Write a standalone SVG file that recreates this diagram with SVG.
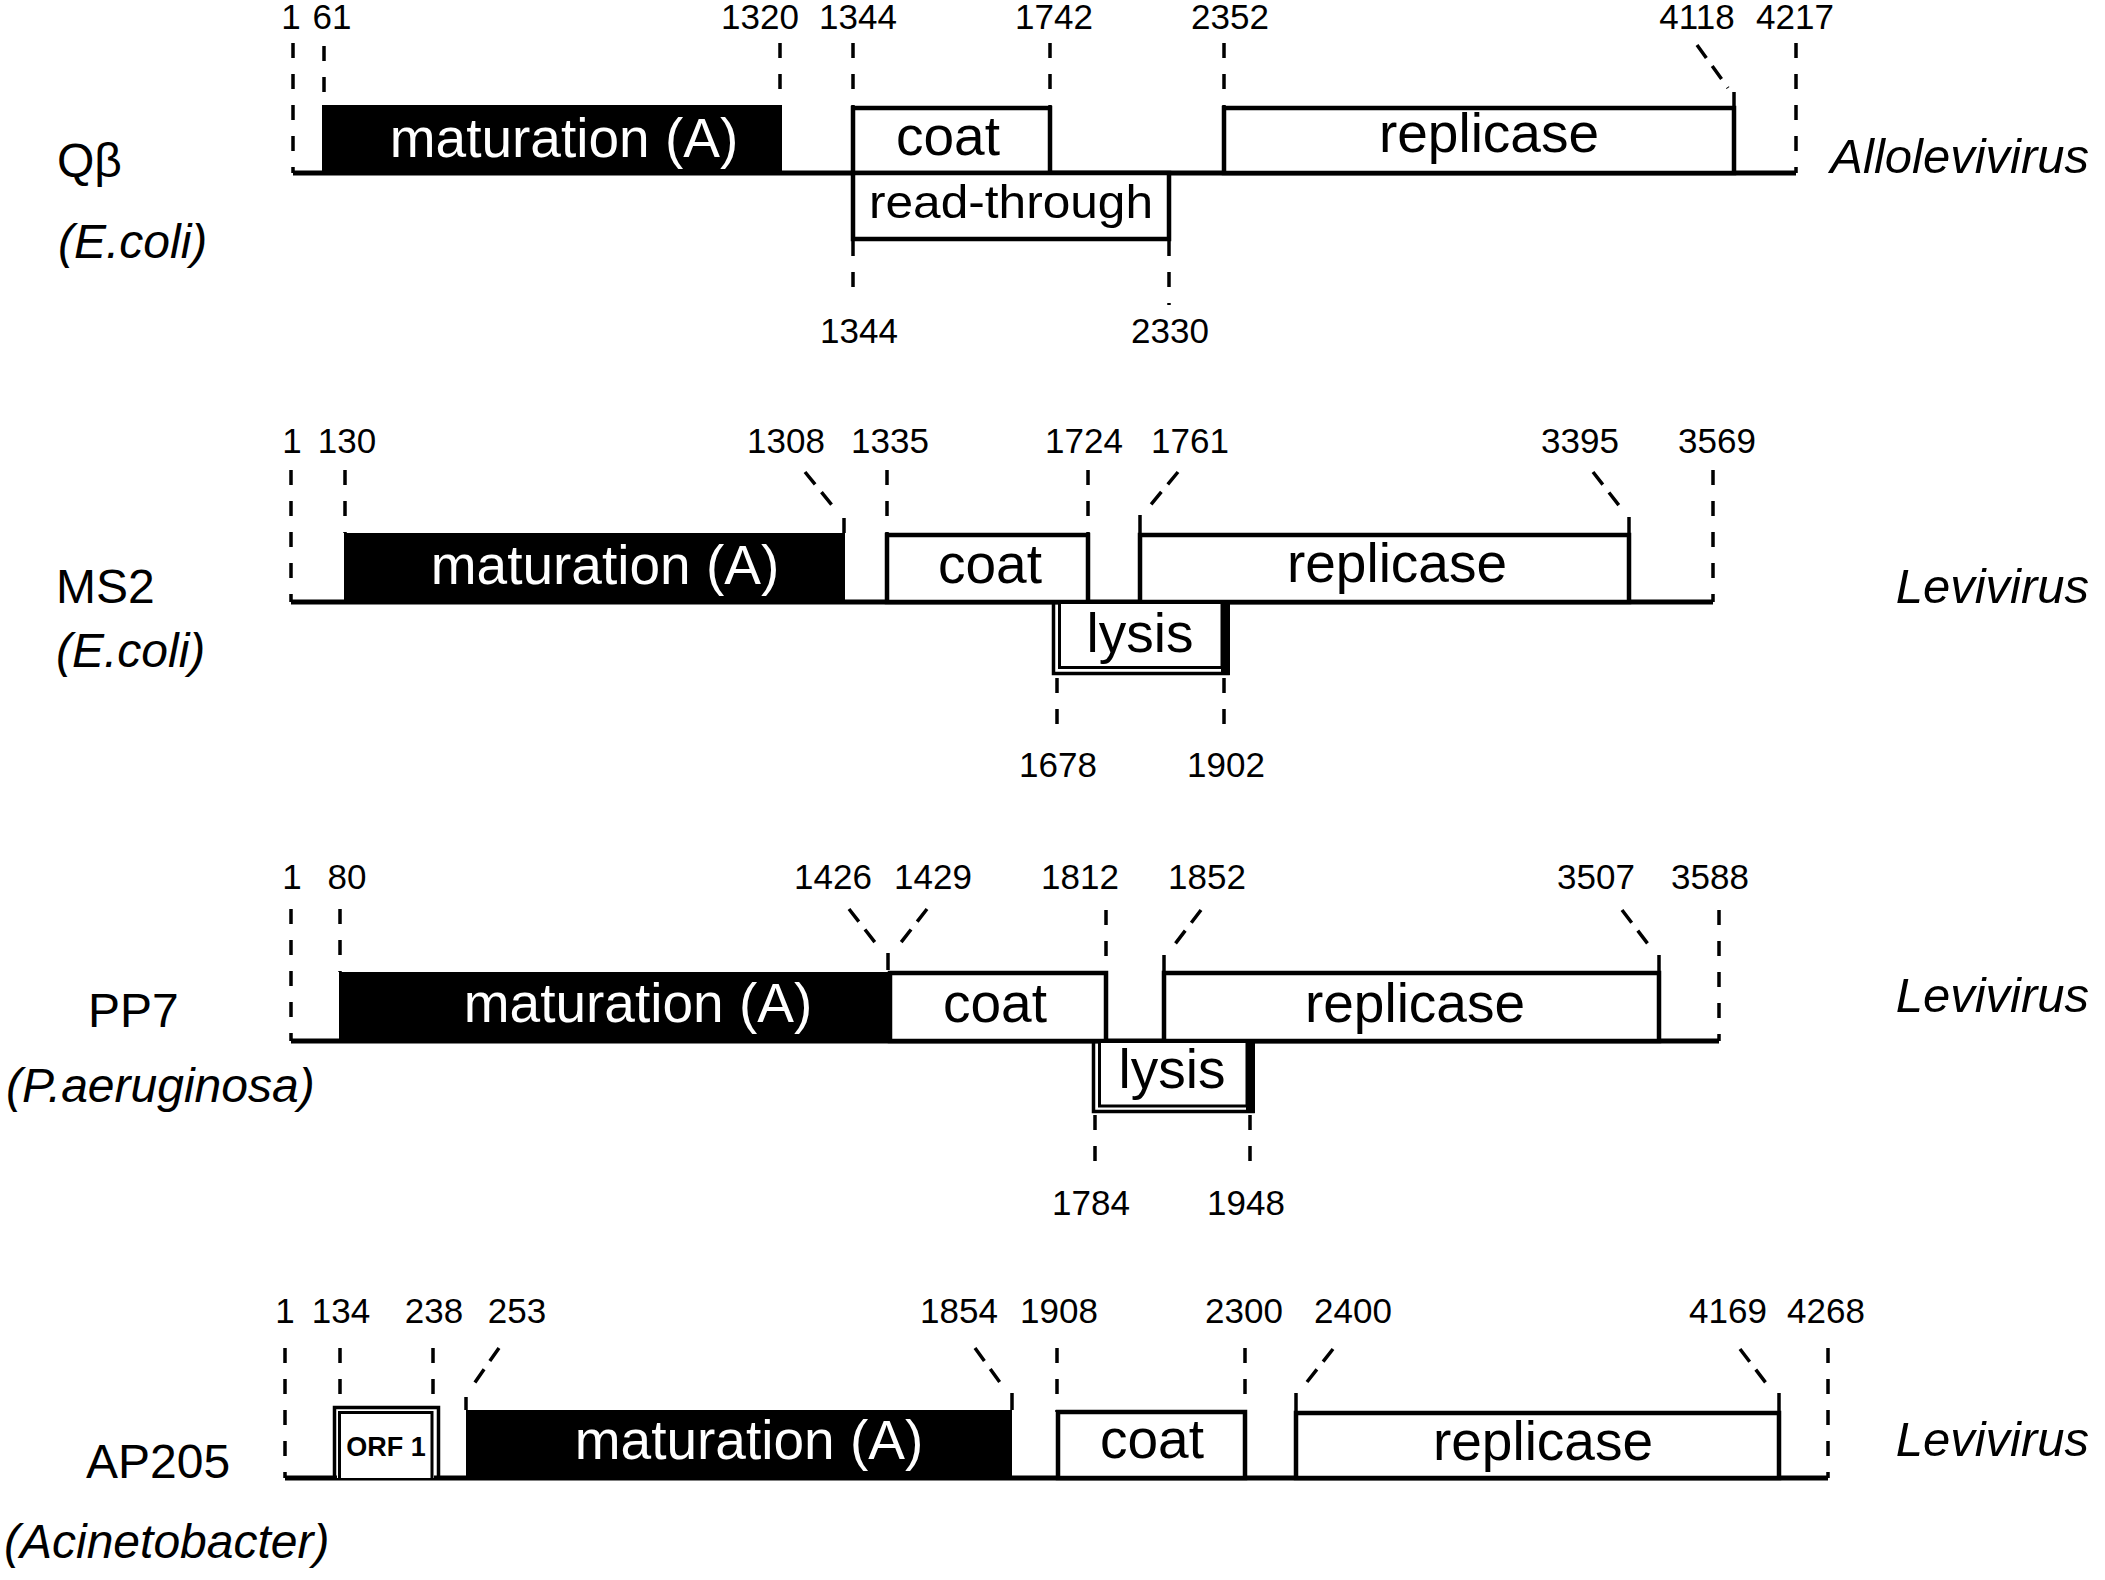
<svg xmlns="http://www.w3.org/2000/svg" width="2105" height="1580" viewBox="0 0 2105 1580">
<style>
text{font-family:"Liberation Sans",Arial,sans-serif;fill:#000}
.num{font-size:35px;text-anchor:middle}
.lbl{font-size:55px;text-anchor:middle}
.wht{fill:#fff}
.it{font-style:italic;font-size:48px}
.nm{font-size:48px}
.gen{font-size:49px;font-style:italic;text-anchor:end}
.base{stroke:#000;stroke-width:5;fill:none}
.box{fill:#fff;stroke:#000;stroke-width:4.5}
.mat{fill:#000}
.tick{stroke:#000;stroke-width:3.5;fill:none}
.dash{stroke:#000;stroke-width:3.5;fill:none;stroke-dasharray:15 16}
.diag{stroke:#000;stroke-width:3.5;fill:none;stroke-dasharray:16 10}
.dbl{stroke:#000;fill:none}
</style>
<rect width="2105" height="1580" fill="#fff"/>

<!-- ============ Q beta ============ -->
<g id="qbeta">
  <line class="base" x1="293" y1="173" x2="1796" y2="173"/>
  <text class="nm" x="57" y="177">Qβ</text>
  <text class="it" x="58" y="258">(E.coli)</text>
  <text class="gen" x="2089" y="173">Allolevivirus</text>
</g>
<g id="qbeta-maturation">
  <rect class="mat" x="322" y="105" width="460" height="68"/>
  <text class="lbl wht" x="564" y="157">maturation (A)</text>
</g>
<g id="qbeta-coat">
  <rect class="box" x="853" y="108" width="197" height="65"/>
  <text class="lbl" x="948" y="155">coat</text>
</g>
<g id="qbeta-readthrough">
  <rect class="box" x="853" y="173" width="316" height="66"/>
  <text class="lbl" x="1011" y="218" style="font-size:47px" textLength="284" lengthAdjust="spacingAndGlyphs">read-through</text>
</g>
<g id="qbeta-replicase">
  <rect class="box" x="1224" y="108" width="510" height="65"/>
  <text class="lbl" x="1489" y="152">replicase</text>
</g>
<g id="qbeta-positions">
  <text class="num" x="291" y="29">1</text>
  <text class="num" x="332" y="29">61</text>
  <text class="num" x="760" y="29">1320</text>
  <text class="num" x="858" y="29">1344</text>
  <text class="num" x="1054" y="29">1742</text>
  <text class="num" x="1230" y="29">2352</text>
  <text class="num" x="1697" y="29">4118</text>
  <text class="num" x="1795" y="29">4217</text>
  <text class="num" x="859" y="343">1344</text>
  <text class="num" x="1170" y="343">2330</text>
</g>

<!-- ============ MS2 ============ -->
<g id="ms2">
  <line class="base" x1="291" y1="602" x2="1713" y2="602"/>
  <text class="nm" x="56" y="603">MS2</text>
  <text class="it" x="56" y="667">(E.coli)</text>
  <text class="gen" x="2089" y="603">Levivirus</text>
</g>
<g id="ms2-maturation">
  <rect class="mat" x="344" y="533" width="501" height="69"/>
  <text class="lbl wht" x="605" y="584">maturation (A)</text>
</g>
<g id="ms2-coat">
  <rect class="box" x="887" y="535" width="201" height="67"/>
  <text class="lbl" x="990" y="583">coat</text>
</g>
<g id="ms2-replicase">
  <rect class="box" x="1140" y="535" width="489" height="67"/>
  <text class="lbl" x="1397" y="582">replicase</text>
</g>
<g id="ms2-lysis">
  <rect x="1058" y="604" width="164" height="64" fill="#fff"/>
  <path class="dbl" stroke-width="3.5" d="M1053.5,602 V673.5 H1228 V602"/>
  <path class="dbl" stroke-width="3" d="M1059.5,602 V667.5 H1222 V602"/>
  <rect x="1221" y="602" width="9" height="73" fill="#000"/>
  <text class="lbl" x="1140" y="652">lysis</text>
</g>
<g id="ms2-positions">
  <text class="num" x="292" y="453">1</text>
  <text class="num" x="347" y="453">130</text>
  <text class="num" x="786" y="453">1308</text>
  <text class="num" x="890" y="453">1335</text>
  <text class="num" x="1084" y="453">1724</text>
  <text class="num" x="1190" y="453">1761</text>
  <text class="num" x="1580" y="453">3395</text>
  <text class="num" x="1717" y="453">3569</text>
  <text class="num" x="1058" y="777">1678</text>
  <text class="num" x="1226" y="777">1902</text>
</g>

<!-- ============ PP7 ============ -->
<g id="pp7">
  <line class="base" x1="291" y1="1041" x2="1719" y2="1041"/>
  <text class="nm" x="88" y="1027">PP7</text>
  <text class="it" x="6" y="1102">(P.aeruginosa)</text>
  <text class="gen" x="2089" y="1012">Levivirus</text>
</g>
<g id="pp7-maturation">
  <rect class="mat" x="339" y="972" width="551" height="69"/>
  <text class="lbl wht" x="638" y="1022">maturation (A)</text>
</g>
<g id="pp7-coat">
  <rect class="box" x="890" y="973" width="216" height="68"/>
  <text class="lbl" x="995" y="1022">coat</text>
</g>
<g id="pp7-replicase">
  <rect class="box" x="1164" y="973" width="495" height="68"/>
  <text class="lbl" x="1415" y="1022">replicase</text>
</g>
<g id="pp7-lysis">
  <rect x="1098" y="1043" width="150" height="64" fill="#fff"/>
  <path class="dbl" stroke-width="3.5" d="M1093.5,1041 V1111.5 H1253 V1041"/>
  <path class="dbl" stroke-width="3" d="M1099.5,1041 V1106 H1247 V1041"/>
  <rect x="1246" y="1041" width="9" height="72" fill="#000"/>
  <text class="lbl" x="1172" y="1088">lysis</text>
</g>
<g id="pp7-positions">
  <text class="num" x="292" y="889">1</text>
  <text class="num" x="347" y="889">80</text>
  <text class="num" x="833" y="889">1426</text>
  <text class="num" x="933" y="889">1429</text>
  <text class="num" x="1080" y="889">1812</text>
  <text class="num" x="1207" y="889">1852</text>
  <text class="num" x="1596" y="889">3507</text>
  <text class="num" x="1710" y="889">3588</text>
  <text class="num" x="1091" y="1215">1784</text>
  <text class="num" x="1246" y="1215">1948</text>
</g>

<!-- ============ AP205 ============ -->
<g id="ap205">
  <line class="base" x1="285" y1="1478" x2="1828" y2="1478"/>
  <text class="nm" x="86" y="1478">AP205</text>
  <text class="it" x="4" y="1558">(Acinetobacter)</text>
  <text class="gen" x="2089" y="1456">Levivirus</text>
</g>
<g id="ap205-orf1">
  <rect x="337" y="1409" width="97" height="69" fill="#fff"/>
  <path class="dbl" stroke-width="3.5" d="M334.5,1478 V1407.5 H438.5 V1478"/>
  <path class="dbl" stroke-width="3" d="M339.5,1478 V1412.5 H432 V1478"/>
  <text x="386" y="1456" style="font-size:27px;font-weight:bold;text-anchor:middle">ORF 1</text>
</g>
<g id="ap205-maturation">
  <rect class="mat" x="466" y="1410" width="546" height="68"/>
  <text class="lbl wht" x="749" y="1459">maturation (A)</text>
</g>
<g id="ap205-coat">
  <rect class="box" x="1058" y="1412" width="187" height="66"/>
  <text class="lbl" x="1152" y="1458">coat</text>
</g>
<g id="ap205-replicase">
  <rect class="box" x="1296" y="1413" width="483" height="65"/>
  <text class="lbl" x="1543" y="1460">replicase</text>
</g>
<g id="ap205-positions">
  <text class="num" x="285" y="1323">1</text>
  <text class="num" x="341" y="1323">134</text>
  <text class="num" x="434" y="1323">238</text>
  <text class="num" x="517" y="1323">253</text>
  <text class="num" x="959" y="1323">1854</text>
  <text class="num" x="1059" y="1323">1908</text>
  <text class="num" x="1244" y="1323">2300</text>
  <text class="num" x="1353" y="1323">2400</text>
  <text class="num" x="1728" y="1323">4169</text>
  <text class="num" x="1826" y="1323">4268</text>
</g>

<!-- ============ connectors (position markers) ============ -->
<g id="connectors">
  <!-- Q beta -->
  <line class="dash" x1="293" y1="43" x2="293" y2="173"/>
  <line class="dash" x1="324" y1="46" x2="324" y2="105"/>
  <line class="dash" x1="780" y1="43" x2="780" y2="105"/>
  <line class="dash" x1="853" y1="43" x2="853" y2="108"/>
  <line class="dash" x1="1050" y1="43" x2="1050" y2="108"/>
  <line class="dash" x1="1224" y1="43" x2="1224" y2="108"/>
  <line class="diag" x1="1697" y1="45" x2="1728" y2="88"/>
  <line class="tick" x1="1734" y1="92" x2="1734" y2="108"/>
  <line class="dash" x1="1796" y1="43" x2="1796" y2="173"/>
  <line class="dash" x1="853" y1="241" x2="853" y2="303"/>
  <line class="dash" x1="1169" y1="241" x2="1169" y2="305"/>
  <!-- MS2 -->
  <line class="dash" x1="291" y1="470" x2="291" y2="602"/>
  <line class="dash" x1="345" y1="470" x2="345" y2="533"/>
  <line class="diag" x1="805" y1="472" x2="836" y2="510"/>
  <line class="tick" x1="844" y1="518" x2="844" y2="533"/>
  <line class="dash" x1="887" y1="470" x2="887" y2="535"/>
  <line class="dash" x1="1088" y1="470" x2="1088" y2="535"/>
  <line class="diag" x1="1178" y1="472" x2="1148" y2="508"/>
  <line class="tick" x1="1140" y1="515" x2="1140" y2="535"/>
  <line class="diag" x1="1593" y1="472" x2="1621" y2="508"/>
  <line class="tick" x1="1629" y1="517" x2="1629" y2="535"/>
  <line class="dash" x1="1713" y1="470" x2="1713" y2="602"/>
  <line class="dash" x1="1057" y1="678" x2="1057" y2="733"/>
  <line class="dash" x1="1224" y1="678" x2="1224" y2="733"/>
  <!-- PP7 -->
  <line class="dash" x1="291" y1="909" x2="291" y2="1041"/>
  <line class="dash" x1="340" y1="909" x2="340" y2="972"/>
  <line class="diag" x1="849" y1="909" x2="877" y2="945"/>
  <line class="diag" x1="927" y1="909" x2="899" y2="945"/>
  <line class="tick" x1="888" y1="953" x2="888" y2="970"/>
  <line class="dash" x1="1106" y1="910" x2="1106" y2="973"/>
  <line class="diag" x1="1201" y1="910" x2="1172" y2="948"/>
  <line class="tick" x1="1164" y1="955" x2="1164" y2="973"/>
  <line class="diag" x1="1622" y1="910" x2="1651" y2="948"/>
  <line class="tick" x1="1659" y1="955" x2="1659" y2="973"/>
  <line class="dash" x1="1719" y1="910" x2="1719" y2="1041"/>
  <line class="dash" x1="1095" y1="1115" x2="1095" y2="1173"/>
  <line class="dash" x1="1250" y1="1115" x2="1250" y2="1173"/>
  <!-- AP205 -->
  <line class="dash" x1="285" y1="1348" x2="285" y2="1478"/>
  <line class="dash" x1="340" y1="1348" x2="340" y2="1406"/>
  <line class="dash" x1="433" y1="1348" x2="433" y2="1406"/>
  <line class="diag" x1="499" y1="1348" x2="471" y2="1388"/>
  <line class="tick" x1="466" y1="1397" x2="466" y2="1410"/>
  <line class="diag" x1="975" y1="1348" x2="1004" y2="1388"/>
  <line class="tick" x1="1012" y1="1393" x2="1012" y2="1410"/>
  <line class="dash" x1="1057" y1="1348" x2="1057" y2="1412"/>
  <line class="dash" x1="1245" y1="1348" x2="1245" y2="1412"/>
  <line class="diag" x1="1333" y1="1349" x2="1303" y2="1387"/>
  <line class="tick" x1="1296" y1="1393" x2="1296" y2="1413"/>
  <line class="diag" x1="1740" y1="1349" x2="1769" y2="1387"/>
  <line class="tick" x1="1779" y1="1393" x2="1779" y2="1413"/>
  <line class="dash" x1="1828" y1="1348" x2="1828" y2="1478"/>
</g>
</svg>
